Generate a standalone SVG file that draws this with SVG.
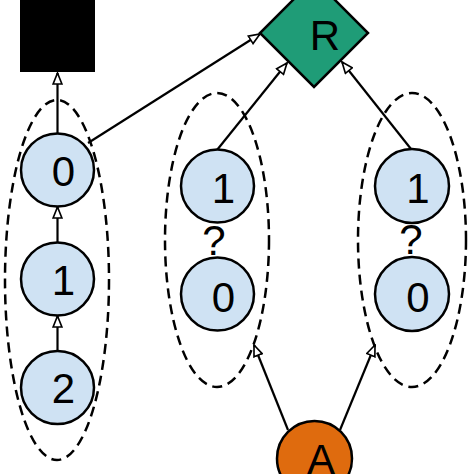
<svg xmlns="http://www.w3.org/2000/svg" width="474" height="474" viewBox="0 0 474 474">
<defs>
<style>
.c{fill:#cfe2f3;stroke:#000;stroke-width:2.5}
.t{font-family:"Liberation Sans",Arial,sans-serif;font-size:42px;fill:#000;text-anchor:middle}
.e{fill:none;stroke:#000;stroke-width:2.5;stroke-dasharray:10 6}
.l{fill:none;stroke:#000;stroke-width:2.2;marker-end:url(#ah)}
</style>
<marker id="ah" viewBox="0 0 12 10" refX="11" refY="5" markerWidth="6" markerHeight="5" orient="auto" markerUnits="strokeWidth">
<path d="M1,1 L11,5 L1,9 z" fill="#fff" stroke="#000" stroke-width="1.5"/>
</marker>
</defs>
<rect width="474" height="474" fill="#fff"/>
<g id="groups">
<ellipse class="e" cx="57" cy="280" rx="52" ry="180"/>
<ellipse class="e" cx="217" cy="240" rx="52" ry="147"/>
<ellipse class="e" cx="412" cy="240" rx="54" ry="147"/>
</g>
<g id="connectors">
<line class="l" x1="57.5" y1="133" x2="57.5" y2="73"/>
<line class="l" x1="57.5" y1="242" x2="57.5" y2="207"/>
<line class="l" x1="57.5" y1="351" x2="57.5" y2="316"/>
<line class="l" x1="88" y1="143" x2="260" y2="34"/>
<line class="l" x1="217" y1="150" x2="287" y2="63"/>
<line class="l" x1="411" y1="149" x2="342" y2="62"/>
<line class="l" x1="288" y1="430" x2="254" y2="345"/>
<line class="l" x1="340" y1="430" x2="375" y2="345"/>
</g>
<g id="black"><rect x="20" y="-5" width="75" height="77" fill="#000"/></g>
<g id="R">
<polygon points="314,-21 368,33 314,87 260,33" fill="#1f9c77" stroke="#000" stroke-width="2.5"/>
<text class="t" x="325" y="50" font-size="44">R</text>
</g>
<g id="n0"><circle class="c" cx="57.5" cy="170" r="36.5"/><text class="t" x="63.5" y="186">0</text></g>
<g id="n1"><circle class="c" cx="57.5" cy="279" r="36.5"/><text class="t" x="63.5" y="295">1</text></g>
<g id="n2"><circle class="c" cx="57.5" cy="387.5" r="36.5"/><text class="t" x="63.5" y="403">2</text></g>
<g id="m1"><circle class="c" cx="217.5" cy="186" r="36.5"/><text class="t" x="223.5" y="203">1</text></g>
<g id="mq"><text class="t" x="214" y="255" font-size="40">?</text></g>
<g id="m0"><circle class="c" cx="217.5" cy="294" r="36.5"/><text class="t" x="223.5" y="312">0</text></g>
<g id="r1"><circle class="c" cx="412" cy="186" r="37"/><text class="t" x="418" y="203">1</text></g>
<g id="rq"><text class="t" x="411" y="254" font-size="40">?</text></g>
<g id="r0"><circle class="c" cx="412" cy="294" r="37"/><text class="t" x="418" y="312">0</text></g>
<g id="A"><circle cx="314.5" cy="458.5" r="37.5" fill="#df6b0e" stroke="#000" stroke-width="2.5"/><text class="t" x="321" y="474">A</text></g>
</svg>
